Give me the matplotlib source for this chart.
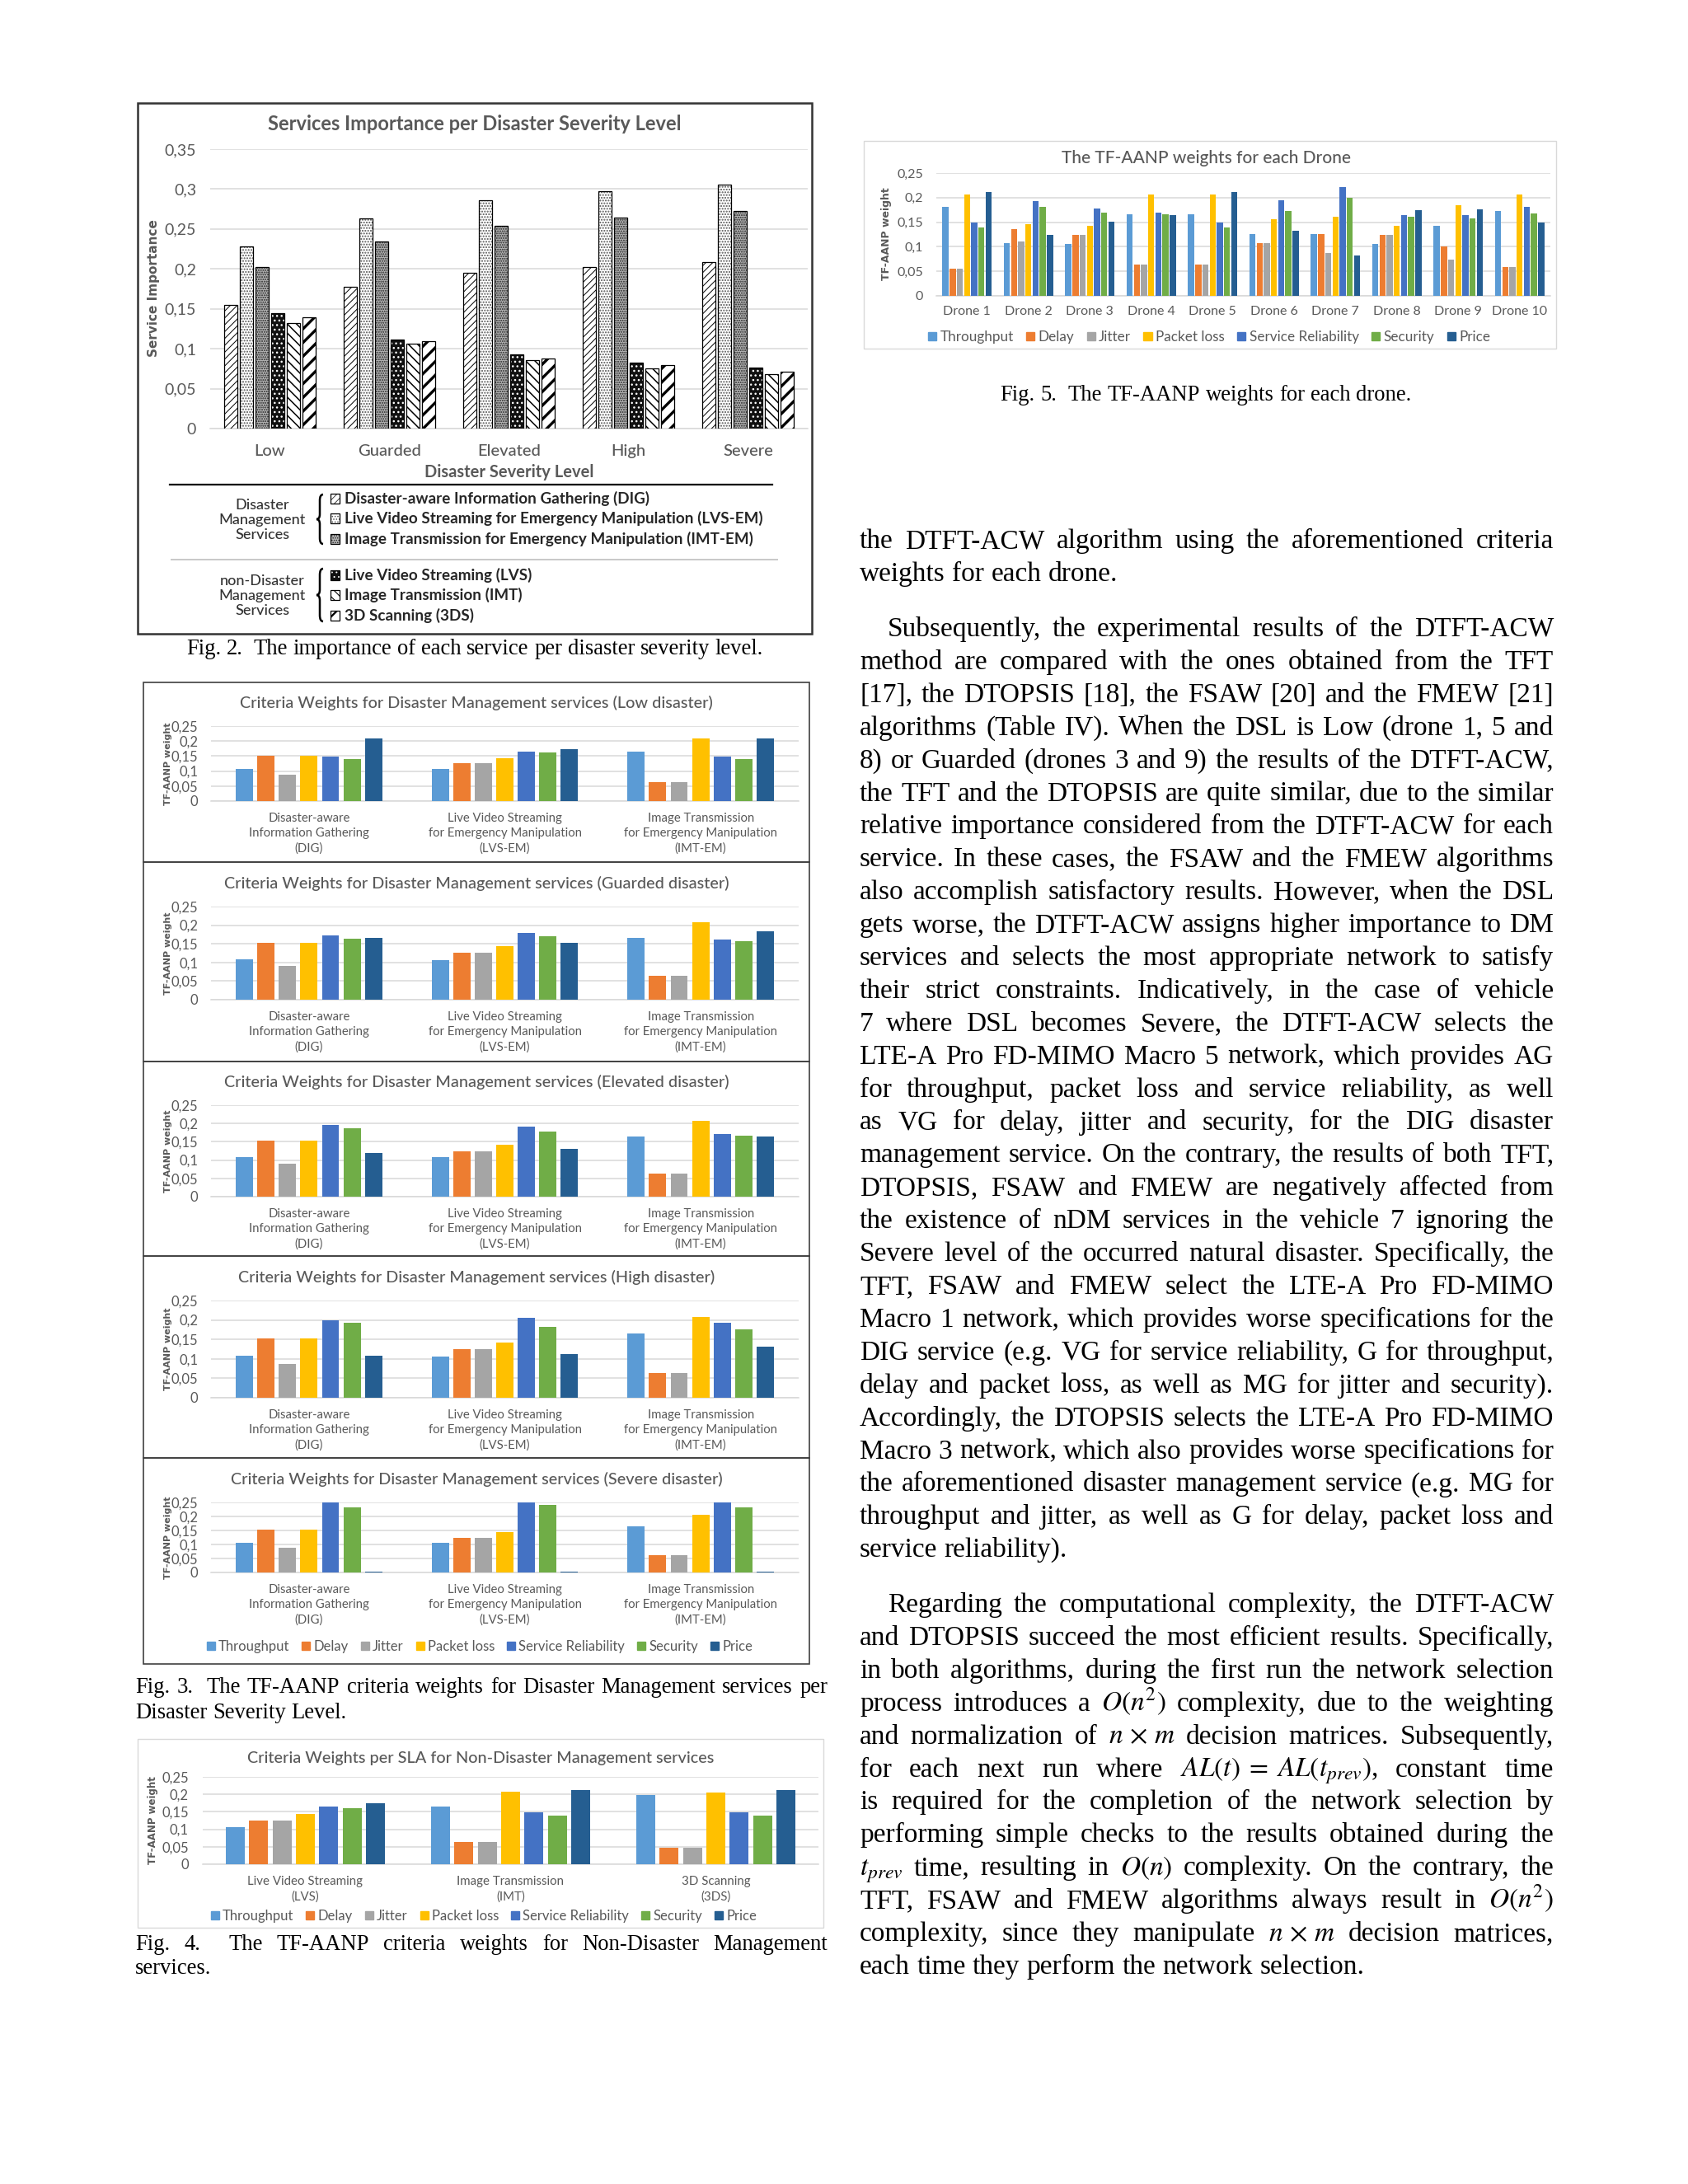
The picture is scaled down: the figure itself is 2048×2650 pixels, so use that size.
import numpy as np
import matplotlib
matplotlib.use('Agg')
import matplotlib.pyplot as plt
from matplotlib.patches import Rectangle, PathPatch
from matplotlib.path import Path
from matplotlib.ticker import FuncFormatter

W, H = 2048, 2650
SANS = ['Lato', 'DejaVu Sans']
SERIF = ['Liberation Serif', 'DejaVu Serif']
GREY = '#595959'
GRID = '#d9d9d9'

plt.rcParams['font.family'] = SANS
plt.rcParams['mathtext.fontset'] = 'stix'

# ---------------- data: Fig. 2 ----------------
levels = ['Low', 'Guarded', 'Elevated', 'High', 'Severe']
dig = [0.155, 0.178, 0.195, 0.202, 0.209]
lvs_em = [0.228, 0.263, 0.286, 0.297, 0.306]
imt_em = [0.202, 0.234, 0.254, 0.264, 0.273]
lvs = [0.145, 0.112, 0.093, 0.083, 0.076]
imt = [0.132, 0.106, 0.086, 0.075, 0.068]
ds3 = [0.139, 0.109, 0.088, 0.079, 0.071]
dm_names = ['Disaster-aware Information Gathering (DIG)',
            'Live Video Streaming for Emergency Manipulation (LVS-EM)',
            'Image Transmission for Emergency Manipulation (IMT-EM)']
ndm_names = ['Live Video Streaming (LVS)', 'Image Transmission (IMT)', '3D Scanning (3DS)']

# ---------------- data: criteria weights ----------------
criteria = ['Throughput', 'Delay', 'Jitter', 'Packet loss', 'Service Reliability', 'Security', 'Price']
crit_colors = ['#5B9BD5', '#ED7D31', '#A5A5A5', '#FFC000', '#4472C4', '#70AD47', '#255E91']

dm_groups = ['Disaster-aware\nInformation Gathering\n(DIG)',
             'Live Video Streaming\nfor Emergency Manipulation\n(LVS-EM)',
             'Image Transmission\nfor Emergency Manipulation\n(IMT-EM)']
# rows: DIG, LVS-EM, IMT-EM ; columns: criteria
w_low = [[0.107, 0.151, 0.088, 0.151, 0.149, 0.139, 0.210],
         [0.107, 0.126, 0.126, 0.142, 0.164, 0.161, 0.172],
         [0.164, 0.064, 0.064, 0.208, 0.149, 0.139, 0.210]]
w_guarded = [[0.109, 0.152, 0.090, 0.152, 0.173, 0.164, 0.166],
             [0.107, 0.125, 0.125, 0.143, 0.179, 0.171, 0.152],
             [0.166, 0.065, 0.065, 0.207, 0.162, 0.157, 0.184]]
w_elevated = [[0.108, 0.153, 0.089, 0.153, 0.196, 0.187, 0.119],
              [0.107, 0.125, 0.125, 0.143, 0.192, 0.179, 0.131],
              [0.165, 0.063, 0.063, 0.207, 0.172, 0.166, 0.165]]
w_high = [[0.107, 0.152, 0.087, 0.152, 0.200, 0.192, 0.107],
          [0.106, 0.124, 0.124, 0.143, 0.205, 0.182, 0.112],
          [0.165, 0.063, 0.063, 0.207, 0.192, 0.175, 0.131]]
w_severe = [[0.107, 0.154, 0.088, 0.154, 0.250, 0.232, 0.004],
            [0.107, 0.125, 0.125, 0.143, 0.250, 0.240, 0.004],
            [0.165, 0.063, 0.063, 0.207, 0.250, 0.232, 0.004]]
panel_titles = ['Criteria Weights for Disaster Management services (Low disaster)',
                'Criteria Weights for Disaster Management services (Guarded disaster)',
                'Criteria Weights for Disaster Management services (Elevated disaster)',
                'Criteria Weights for Disaster Management services (High disaster)',
                'Criteria Weights for Disaster Management services (Severe disaster)']

ndm_groups = ['Live Video Streaming\n(LVS)', 'Image Transmission\n(IMT)', '3D Scanning\n(3DS)']
w_ndm = [[0.107, 0.125, 0.125, 0.143, 0.165, 0.161, 0.174],
         [0.165, 0.063, 0.063, 0.208, 0.149, 0.140, 0.212],
         [0.199, 0.047, 0.047, 0.206, 0.149, 0.140, 0.212]]

drones = ['Drone %d' % i for i in range(1, 11)]
w_drones = [[0.182, 0.055, 0.055, 0.206, 0.149, 0.139, 0.211],
            [0.107, 0.136, 0.110, 0.146, 0.193, 0.181, 0.125],
            [0.106, 0.125, 0.125, 0.143, 0.178, 0.170, 0.151],
            [0.166, 0.064, 0.064, 0.206, 0.169, 0.166, 0.164],
            [0.166, 0.064, 0.064, 0.206, 0.149, 0.139, 0.211],
            [0.126, 0.108, 0.108, 0.156, 0.194, 0.173, 0.133],
            [0.126, 0.126, 0.088, 0.161, 0.221, 0.199, 0.082],
            [0.106, 0.125, 0.125, 0.143, 0.164, 0.161, 0.174],
            [0.142, 0.100, 0.073, 0.184, 0.165, 0.158, 0.176],
            [0.173, 0.059, 0.059, 0.206, 0.182, 0.167, 0.150]]

# ---------------- body text ----------------
para1 = ['the DTFT-ACW algorithm using the aforementioned criteria',
         'weights for each drone.']
para2 = ['Subsequently, the experimental results of the DTFT-ACW',
         'method are compared with the ones obtained from the TFT',
         '[17], the DTOPSIS [18], the FSAW [20] and the FMEW [21]',
         'algorithms (Table IV). When the DSL is Low (drone 1, 5 and',
         '8) or Guarded (drones 3 and 9) the results of the DTFT-ACW,',
         'the TFT and the DTOPSIS are quite similar, due to the similar',
         'relative importance considered from the DTFT-ACW for each',
         'service. In these cases, the FSAW and the FMEW algorithms',
         'also accomplish satisfactory results. However, when the DSL',
         'gets worse, the DTFT-ACW assigns higher importance to DM',
         'services and selects the most appropriate network to satisfy',
         'their strict constraints. Indicatively, in the case of vehicle',
         '7 where DSL becomes Severe, the DTFT-ACW selects the',
         'LTE-A Pro FD-MIMO Macro 5 network, which provides AG',
         'for throughput, packet loss and service reliability, as well',
         'as VG for delay, jitter and security, for the DIG disaster',
         'management service. On the contrary, the results of both TFT,',
         'DTOPSIS, FSAW and FMEW are negatively affected from',
         'the existence of nDM services in the vehicle 7 ignoring the',
         'Severe level of the occurred natural disaster. Specifically, the',
         'TFT, FSAW and FMEW select the LTE-A Pro FD-MIMO',
         'Macro 1 network, which provides worse specifications for the',
         'DIG service (e.g. VG for service reliability, G for throughput,',
         'delay and packet loss, as well as MG for jitter and security).',
         'Accordingly, the DTOPSIS selects the LTE-A Pro FD-MIMO',
         'Macro 3 network, which also provides worse specifications for',
         'the aforementioned disaster management service (e.g. MG for',
         'throughput and jitter, as well as G for delay, packet loss and',
         'service reliability).']
para3 = ['Regarding the computational complexity, the DTFT-ACW',
         'and DTOPSIS succeed the most efficient results. Specifically,',
         'in both algorithms, during the first run the network selection',
         r'process introduces a $O(n^2)$ complexity, due to the weighting',
         r'and normalization of $n\,\times\,m$ decision matrices. Subsequently,',
         r'for each next run where $AL(t)\;=\;AL(t_{prev})$, constant time',
         'is required for the completion of the network selection by',
         'performing simple checks to the results obtained during the',
         r'$t_{prev}$ time, resulting in $O(n)$ complexity. On the contrary, the',
         r'TFT, FSAW and FMEW algorithms always result in $O(n^2)$',
         r'complexity, since they manipulate $n\,\times\,m$ decision matrices,',
         'each time they perform the network selection.']

# ---------------- helpers ----------------
fig = plt.figure(figsize=(W / 100, H / 100), dpi=100)
page = fig.add_axes([0, 0, 1, 1])
page.set_xlim(0, W)
page.set_ylim(H, 0)
page.axis('off')
renderer = fig.canvas.get_renderer()


def px_axes(x0, y0, x1, y1):
    ax = fig.add_axes([x0 / W, 1 - y1 / H, (x1 - x0) / W, (y1 - y0) / H])
    ax.set_facecolor('none')
    return ax


def comma(v, pos=None):
    return ('%.2f' % v).rstrip('0').rstrip('.').replace('.', ',')


def style_axes(ax, ymax, step, size, pad_px):
    ax.set_ylim(0, ymax)
    ax.set_yticks(np.arange(0, ymax + 1e-9, step))
    ax.yaxis.set_major_formatter(FuncFormatter(comma))
    ax.grid(axis='y', color=GRID, linewidth=1.1, zorder=0)
    ax.set_axisbelow(True)
    for s in ('top', 'right', 'left'):
        ax.spines[s].set_visible(False)
    ax.spines['bottom'].set_color(GRID)
    ax.spines['bottom'].set_linewidth(1.1)
    ax.tick_params(axis='y', length=0, labelsize=size, labelcolor=GREY, pad=pad_px * 0.72)
    ax.tick_params(axis='x', length=0)


def criteria_chart(ax, groups, table, slot, width):
    x = np.arange(len(groups))
    n = len(criteria)
    for i, col in enumerate(crit_colors):
        ax.bar(x + (i - (n - 1) / 2) * slot, [row[i] for row in table], width,
               color=col, zorder=3)
    ax.set_xlim(-0.5, len(groups) - 0.5)
    ax.set_xticks(x)


def crit_legend(cx, cy, size, colsp=0.9):
    handles = [Rectangle((0, 0), 1, 1, color=c) for c in crit_colors]
    fig.legend(handles, criteria, loc='center', bbox_to_anchor=(cx / W, 1 - cy / H),
               ncol=7, frameon=False, fontsize=size, handlelength=0.6, handleheight=0.6,
               handletextpad=0.25, columnspacing=colsp, labelcolor=GREY,
               borderpad=0, borderaxespad=0)


def tokens(line):
    # split on spaces, but keep $...$ math together
    out, cur, math = [], '', False
    for ch in line:
        if ch == '$':
            math = not math
        if ch == ' ' and not math:
            out.append(cur)
            cur = ''
        else:
            cur += ch
    out.append(cur)
    return out


def put_line(line, x0, x1, y, size, justify=True, indent=0, center=None):
    words = tokens(line)
    items = [page.text(x0, y, w, fontsize=size, family=SERIF, va='baseline', ha='left')
             for w in words]
    widths = [t.get_window_extent(renderer).width if t.get_text() else 0 for t in items]
    space = size * 100 / 72 * 0.25
    start = x0 + indent
    if justify and len(items) > 1:
        gap = (x1 - start - sum(widths)) / (len(items) - 1)
    else:
        gap = space
    if center is not None:
        start = center - (sum(widths) + gap * (len(items) - 1)) / 2
    x = start
    for t, wd in zip(items, widths):
        t.set_x(x)
        x += wd + gap


def paragraph(lines, x0, x1, y0, step, size, indent=0):
    for k, line in enumerate(lines):
        put_line(line, x0, x1, y0 + k * step, size,
                 justify=(k < len(lines) - 1), indent=indent if k == 0 else 0)


def brace(x, y0, y1, w):
    ym = (y0 + y1) / 2
    h = y1 - y0
    m = x + w / 2
    verts = [(x + w, y0), (m, y0), (m, y0 + 0.12 * h), (m, ym - 0.1 * h), (m, ym), (x, ym),
             (m, ym), (m, ym + 0.1 * h), (m, y1 - 0.12 * h), (m, y1), (x + w, y1)]
    codes = [Path.MOVETO, Path.CURVE3, Path.CURVE3, Path.LINETO, Path.CURVE3, Path.CURVE3,
             Path.CURVE3, Path.CURVE3, Path.LINETO, Path.CURVE3, Path.CURVE3]
    page.add_patch(PathPatch(Path(verts, codes), fill=False, lw=1.8, ec='black'))


def box(x0, y0, x1, y1, ec, lw):
    page.add_patch(Rectangle((x0, y0), x1 - x0, y1 - y0, fill=False, ec=ec, lw=lw))


# ================= Fig. 2 =================
fig2_series = [dig, lvs_em, imt_em, lvs, imt, ds3]
fig2_hatch = ['////', '.....', '......', '...', '\\\\\\', '//']
fig2_face = ['white', 'white', '#b5b5b5', '#111111', 'white', 'white']
fig2_hcol = ['black', '#555555', '#222222', 'white', 'black', 'black']
fig2_hlw = [0.7, 1.0, 1.0, 1.0, 1.1, 2.4]

box(167, 125, 985, 769, '#333333', 1.8)
ax2 = px_axes(255, 181, 980, 520)
style_axes(ax2, 0.35, 0.05, 14, 17)
xc = np.arange(len(levels))
for i, vals in enumerate(fig2_series):
    pos = xc + (i - 2.5) * 0.131
    with plt.rc_context({'hatch.linewidth': fig2_hlw[i]}):
        bars = ax2.bar(pos, vals, 0.112, facecolor=fig2_face[i], edgecolor=fig2_hcol[i],
                       hatch=fig2_hatch[i], linewidth=0, zorder=3)
    for b in bars:
        if hasattr(b, 'set_hatch_linewidth'):
            b.set_hatch_linewidth(fig2_hlw[i])
    ax2.bar(pos, vals, 0.112, fill=False, edgecolor='black', linewidth=0.9, zorder=4)
ax2.set_xlim(-0.5, len(levels) - 0.5)
ax2.set_xticks(xc)
ax2.set_xticklabels(levels, fontsize=14.5, color=GREY, fontweight='medium')
ax2.tick_params(axis='x', pad=14)
page.text(576, 151, 'Services Importance per Disaster Severity Level', fontsize=17,
          fontweight='bold', color=GREY, ha='center', va='center')
page.text(186, 350, 'Service Importance', fontsize=11, family='DejaVu Sans', fontweight='bold',
          color=GREY, rotation=90, ha='center', va='center')
page.text(618, 573, 'Disaster Severity Level', fontsize=14.5, fontweight='bold', color=GREY,
          ha='center', va='center')
page.plot([206, 937], [588, 588], color='black', lw=1.6)
page.plot([208, 943], [679, 679], color='#c8c8c8', lw=1.4)

for names, ys, lab_y, br, off in [(dm_names, [605, 629, 654], [613, 631, 649], (600, 660), 0),
                                  (ndm_names, [698, 722, 747], [705, 723, 741], (690, 754), 3)]:
    page.text(318, lab_y[0], 'Disaster' if off == 0 else 'non-Disaster', fontsize=13,
              color='#333333', fontweight='medium', ha='center', va='center')
    page.text(318, lab_y[1], 'Management', fontsize=13, color='#333333', fontweight='medium',
              ha='center', va='center')
    page.text(318, lab_y[2], 'Services', fontsize=13, color='#333333', fontweight='medium',
              ha='center', va='center')
    brace(384, br[0], br[1], 8)
    for k, (nm, yy) in enumerate(zip(names, ys)):
        j = off + k
        with plt.rc_context({'hatch.linewidth': fig2_hlw[j] * 0.7}):
            p = Rectangle((401, yy - 6), 11, 12, facecolor=fig2_face[j], edgecolor=fig2_hcol[j],
                          hatch=fig2_hatch[j], lw=0)
        page.add_patch(p)
        page.add_patch(Rectangle((401, yy - 6), 11, 12, fill=False, ec='black', lw=0.9))
        page.text(418, yy, nm, fontsize=13.6, fontweight='bold', color='#262626',
                  ha='left', va='center')

put_line('Fig. 2.  The importance of each service per disaster severity level.',
         0, 0, 794, 19.2, justify=False, center=576)

# ================= Fig. 3 =================
panel_data = [w_low, w_guarded, w_elevated, w_high, w_severe]
panel_box = [(828, 1046), (1046, 1288), (1288, 1524), (1524, 1769), (1769, 2019)]
panel_axes = [(881, 972), (1100, 1213), (1341, 1452), (1578, 1696), (1823, 1908)]
for k, table in enumerate(panel_data):
    b0, b1 = panel_box[k]
    box(174, b0, 982, b1, '#404040', 1.2)
    a0, a1 = panel_axes[k]
    ax = px_axes(256, a0, 969, a1)
    style_axes(ax, 0.25, 0.05, 12, 16)
    criteria_chart(ax, dm_groups, table, 0.11, 0.088)
    ax.set_xticklabels(dm_groups, fontsize=10.7, color=GREY, linespacing=1.4)
    ax.tick_params(axis='x', pad=10)
    page.text(578, a0 - 28, panel_titles[k], fontsize=14.3, color=GREY, fontweight='medium',
              ha='center', va='center')
    page.text(204, (a0 + a1) / 2, 'TF-AANP weight', fontsize=8, family='DejaVu Sans',
              fontweight='bold', color=GREY, rotation=90, ha='center', va='center')
crit_legend(582, 1998, 12)
put_line('Fig. 3.  The TF-AANP criteria weights for Disaster Management services per',
         164, 1004, 2054, 19.2)
put_line('Disaster Severity Level.', 164, 1004, 2085, 19.2, justify=False)

# ================= Fig. 4 =================
box(167, 2110, 999, 2339, GRID, 1.0)
ax4 = px_axes(246, 2156, 993, 2262)
style_axes(ax4, 0.25, 0.05, 12, 17)
criteria_chart(ax4, ndm_groups, w_ndm, 0.114, 0.092)
ax4.set_xticklabels(ndm_groups, fontsize=10.8, color=GREY, linespacing=1.4)
ax4.tick_params(axis='x', pad=10)
page.text(583, 2134, 'Criteria Weights per SLA for Non-Disaster Management services',
          fontsize=14.3, color=GREY, fontweight='medium', ha='center', va='center')
page.text(186, 2209, 'TF-AANP weight', fontsize=8.5, family='DejaVu Sans', fontweight='bold',
          color=GREY, rotation=90, ha='center', va='center')
crit_legend(587, 2325, 12)
put_line('Fig. 4.  The TF-AANP criteria weights for Non-Disaster Management',
         164, 1004, 2366, 19.2)
put_line('services.', 164, 1004, 2395, 19.2, justify=False)

# ================= Fig. 5 =================
box(1048, 171, 1888, 423, GRID, 1.0)
ax5 = px_axes(1136, 210, 1881, 359)
style_axes(ax5, 0.25, 0.05, 11.5, 16)
criteria_chart(ax5, drones, w_drones, 0.117, 0.1)
ax5.set_xticklabels(drones, fontsize=11.5, color=GREY)
ax5.tick_params(axis='x', pad=9)
page.text(1464, 192, 'The TF-AANP weights for each Drone', fontsize=15, color=GREY,
          fontweight='medium', ha='center', va='center')
page.text(1075, 284, 'TF-AANP weight', fontsize=9, family='DejaVu Sans', fontweight='bold',
          color=GREY, rotation=90, ha='center', va='center')
crit_legend(1467, 409, 12.3)
put_line('Fig. 5.  The TF-AANP weights for each drone.', 0, 0, 486, 19.2,
         justify=False, center=1463)

# ================= body text =================
X0, X1 = 1043, 1885
STEP = 39.9
paragraph(para1, X0, X1, 665, STEP, 24)
paragraph(para2, X0, X1, 772, STEP, 24, indent=34)
paragraph(para3, X0, X1, 1956, STEP, 24, indent=34)

fig.savefig('out.png', dpi=100, facecolor='white')
